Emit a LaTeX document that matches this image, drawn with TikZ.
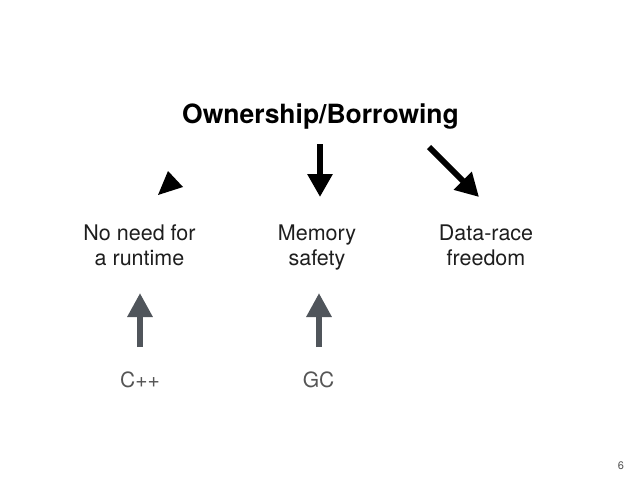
\documentclass[tikz,border=0pt]{standalone}
\usepackage{fontspec}
\setmainfont{TeX Gyre Heros}
\usetikzlibrary{arrows.meta}
\definecolor{slate}{HTML}{50555B}
\definecolor{labeltext}{HTML}{1E1E1E}
\definecolor{softtext}{HTML}{555555}
\tikzset{
  title/.style={font=\fontsize{26.5}{30}\selectfont\bfseries, text=black, inner sep=0pt, anchor=base},
  label/.style={font=\fontsize{21.5}{25}\selectfont, text=labeltext, inner sep=0pt, align=center, anchor=base},
  source/.style={font=\fontsize{21}{25}\selectfont, text=softtext, inner sep=0pt, anchor=base},
  blackarrow/.style={draw=black, line width=6pt, -{Triangle[length=23pt,width=24pt]}},
  grayarrow/.style={draw=slate, line width=6.5pt, -{Triangle[length=24pt,width=24pt]}},
}
\begin{document}
\begin{tikzpicture}[x=1pt,y=-1pt]
\useasboundingbox (0,0) rectangle (638,479);
\fill[white] (0,0) rectangle (638,479);

\node[title] (own) at (320.5,123) {Ownership/Borrowing};

\node[label] (rt) at (139.5,265.5) {No need for\\a runtime};
\node[label] (mem) at (317,265.5) {Memory\\safety};
\node[label] (drf) at (486,265.5) {Data-race\\freedom};

\node[source] (cpp) at (140,387) {C++};
\node[source] (gc) at (318.5,387) {GC};

\node[font=\fontsize{11}{13}\selectfont, text=softtext, inner sep=0pt, anchor=base] (pg) at (621,469) {6};

% arrows from Ownership/Borrowing
\coordinate (t1) at (158,195);
\coordinate (t2) at (168,171);
\coordinate (t3) at (183,187);
\fill[black] (t1) -- (t2) -- (t3) -- cycle;

\coordinate (ms) at (320,144);
\coordinate (me) at (320,197);
\draw[blackarrow] (ms) -- (me);

\coordinate (ds) at (429,147);
\coordinate (de) at (479,197);
\draw[blackarrow] (ds) -- (de);

% arrows from C++ and GC
\coordinate (cs) at (140,347);
\coordinate (ce) at (140,293);
\draw[grayarrow] (cs) -- (ce);

\coordinate (gs) at (319,347);
\coordinate (ge) at (319,293);
\draw[grayarrow] (gs) -- (ge);
\end{tikzpicture}
\end{document}
